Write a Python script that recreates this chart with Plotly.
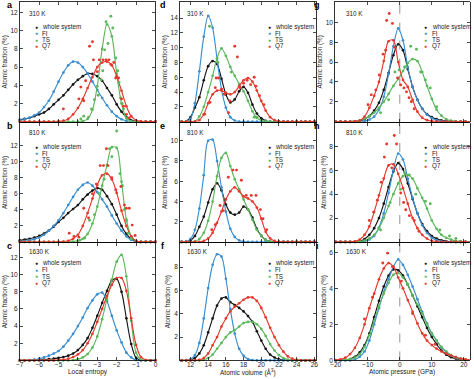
import plotly.graph_objects as go

# ---------------- data ----------------
SERIES_NAMES = ["whole system", "FI", "TS", "Q7"]
SERIES_COLORS = ["#161616", "#3b8ed0", "#5cb85c", "#e5392d"]
TEMPERATURES = ["310 K", "810 K", "1630 K"]
PANEL_LETTERS = ["a", "b", "c", "d", "e", "f", "g", "h", "i"]

ENTROPY_X = [-7, -6.75, -6.5, -6.25, -6, -5.75, -5.5, -5.25, -5, -4.75, -4.5, -4.25, -4, -3.75,
             -3.5, -3.25, -3, -2.75, -2.5, -2.25, -2, -1.75, -1.5, -1.25, -1, -0.75, -0.5, -0.25, 0]
VOLUME_X = [11, 11.5, 12, 12.5, 13, 13.5, 14, 14.5, 15, 15.5, 16, 16.5, 17, 17.5, 18, 18.5,
            19, 19.5, 20, 20.5, 21, 21.5, 22, 22.5, 23, 23.5, 24, 24.5, 25, 25.5, 26]
PRESSURE_X = [-20, -18.5, -17, -15.5, -14, -12.5, -11, -9.5, -8, -6.5, -5, -3.5, -2, -0.5, 1,
              2.5, 4, 5.5, 7, 8.5, 10, 11.5, 13, 14.5, 16, 17.5, 19, 20.5, 22]

# panel a (310 K, local entropy)
A_WHOLE = [0.2, 0.3, 0.4, 0.6, 0.8, 1.0, 1.4, 1.9, 2.4, 2.9, 3.5, 4.1, 4.6, 5.0, 5.3, 5.25, 5.0,
           4.5, 3.7, 2.9, 1.9, 1.1, 0.5, 0.15, 0.03, 0, 0, 0, 0]
A_FI = [0.15, 0.25, 0.45, 0.7, 1.0, 1.6, 2.3, 3.3, 4.4, 5.4, 6.2, 6.6, 6.5, 6.0, 5.3, 4.4, 3.5,
        2.6, 1.8, 1.1, 0.6, 0.25, 0.08, 0, 0, 0, 0, 0, 0]
A_TS = [0, 0, 0, 0, 0, 0, 0, 0, 0, 0, 0, 0, 0, 0.05, 0.3, 1.3, 3.9, 8.0, 10.7, 9.4, 5.3, 2.0,
        0.4, 0.05, 0, 0, 0, 0, 0]
A_Q7 = [0, 0, 0, 0, 0, 0, 0, 0, 0.02, 0.1, 0.3, 0.8, 1.5, 2.5, 3.7, 4.9, 6.0, 6.5, 6.6, 6.2, 5.0,
        3.4, 1.7, 0.6, 0.15, 0.02, 0, 0, 0]
A_TS_PX = [-3.85, -3.7, -3.45, -3.3, -3.15, -2.95, -2.8, -2.72, -2.62, -2.55, -2.45, -2.3, -2.2,
           -2.05, -1.95, -1.88, -1.8, -1.72, -1.65, -1.55, -1.45]
A_TS_PY = [0.3, 0.6, 0.5, 1.4, 2.4, 2.9, 4.6, 5.6, 7.9, 11.0, 8.6, 11.6, 10.3, 7.0, 5.6, 4.3,
           2.6, 2.0, 1.4, 0.7, 0.3]
A_Q7_PX = [-4.75, -3.95, -3.85, -3.7, -3.6, -3.4, -3.25, -3.2, -3.0, -2.9, -2.7, -2.55, -2.4,
           -2.3, -2.15, -2.05, -1.9, -1.75, -1.65, -1.5, -1.35]
A_Q7_PY = [1.4, 2.5, 3.8, 2.3, 4.5, 8.3, 8.8, 6.8, 5.5, 6.8, 6.8, 6.8, 6.8, 6.3, 6.5, 4.8, 4.8,
           2.5, 1.7, 0.8, 0.4]

# panel b (810 K, local entropy)
B_WHOLE = [0.2, 0.3, 0.4, 0.55, 0.75, 1.05, 1.4, 1.9, 2.5, 3.0, 3.6, 4.1, 4.6, 5.3, 5.9, 6.4,
           6.7, 6.5, 5.7, 4.7, 3.4, 2.0, 1.0, 0.35, 0.08, 0, 0, 0, 0]
B_FI = [0.05, 0.1, 0.2, 0.35, 0.55, 0.9, 1.4, 2.0, 2.7, 3.6, 4.6, 5.6, 6.5, 7.1, 7.4, 7.0, 6.2,
        5.3, 4.4, 3.3, 2.3, 1.4, 0.7, 0.25, 0.05, 0, 0, 0, 0]
B_TS = [0, 0, 0, 0, 0, 0, 0, 0, 0, 0, 0, 0.05, 0.15, 0.4, 1.0, 2.3, 4.4, 7.0, 9.6, 11.8, 11.7,
        7.5, 2.8, 0.7, 0.1, 0, 0, 0, 0]
B_Q7 = [0, 0, 0, 0, 0, 0, 0, 0, 0.02, 0.05, 0.15, 0.4, 0.9, 2.0, 3.6, 5.4, 7.1, 8.3, 8.5, 7.8,
        6.1, 3.9, 2.0, 0.7, 0.15, 0, 0, 0, 0]
B_TS_PX = [-3.9, -3.65, -3.4, -3.15, -2.9, -2.65, -2.37, -2.25, -2.0, -1.83, -1.7, -1.6, -1.5,
           -1.4, -1.25]
B_TS_PY = [0.2, 0.5, 2.7, 3.4, 6.0, 7.8, 11.6, 10.6, 13.8, 8.5, 7.0, 4.0, 2.6, 1.1, 0.4]
B_Q7_PX = [-4.45, -4.2, -3.95, -3.7, -3.45, -3.25, -3.05, -2.85, -2.68, -2.53, -2.45, -2.25,
           -2.05, -1.78, -1.6, -1.5, -1.35, -1.2, -1.05]
B_Q7_PY = [1.1, 0.7, 0.6, 4.2, 3.0, 6.0, 7.2, 9.5, 9.5, 11.6, 9.5, 8.0, 6.5, 6.9, 4.6, 4.2, 4.2,
           2.1, 0.8]

# panel c (1630 K, local entropy)
C_WHOLE = [0, 0, 0.02, 0.04, 0.07, 0.1, 0.15, 0.2, 0.3, 0.4, 0.55, 0.8, 1.2, 1.8, 2.6, 3.8, 5.2,
           6.7, 8.1, 9.3, 9.5, 8.0, 4.9, 1.9, 0.3, 0.02, 0, 0, 0]
C_FI = [0, 0.02, 0.05, 0.1, 0.2, 0.35, 0.55, 0.8, 1.1, 1.6, 2.3, 3.1, 4.0, 5.0, 6.1, 7.0, 7.7,
        7.9, 6.9, 5.2, 3.5, 2.1, 0.9, 0.35, 0.05, 0, 0, 0, 0]
C_TS = [0, 0, 0, 0, 0, 0, 0, 0, 0, 0, 0, 0.05, 0.15, 0.35, 0.75, 1.5, 2.8, 4.8, 7.2, 9.4, 11.5,
        12.3, 9.8, 4.6, 0.9, 0.1, 0, 0, 0]
C_Q7 = [0, 0, 0, 0, 0, 0, 0, 0, 0.05, 0.1, 0.2, 0.4, 0.7, 1.2, 2.0, 3.1, 4.5, 6.0, 7.5, 8.8, 9.6,
        9.6, 8.1, 4.9, 1.8, 0.4, 0.05, 0, 0]

# panel d (310 K, atomic volume)
D_WHOLE = [0, 0.05, 0.6, 1.9, 3.3, 5.6, 7.5, 8.2, 7.8, 5.8, 3.7, 2.6, 3.0, 4.1, 4.7, 3.9, 2.3,
           1.1, 0.45, 0.12, 0.02, 0, 0, 0, 0, 0, 0, 0, 0, 0, 0]
D_FI = [0, 0.02, 0.4, 2.5, 6.8, 11.5, 14.3, 12.7, 8.5, 4.4, 1.9, 0.6, 0.15, 0.02, 0, 0, 0, 0, 0,
        0, 0, 0, 0, 0, 0, 0, 0, 0, 0, 0, 0]
D_TS = [0, 0, 0, 0.05, 0.7, 2.0, 4.0, 6.2, 8.6, 9.9, 8.9, 7.4, 6.2, 5.1, 4.1, 2.8, 1.4, 0.5,
        0.15, 0.03, 0, 0, 0, 0, 0, 0, 0, 0, 0, 0, 0]
D_Q7 = [0, 0, 0, 0, 0.2, 1.0, 2.5, 3.7, 4.2, 4.2, 3.9, 3.7, 4.0, 4.8, 5.6, 5.9, 5.4, 4.2, 2.8,
        1.5, 0.6, 0.2, 0.05, 0, 0, 0, 0, 0, 0, 0, 0]
D_TS_PX = [14.15, 15.1, 16.6, 19.2, 19.5]
D_TS_PY = [12.9, 8.0, 6.7, 0.6, 0.6]
D_Q7_PX = [13.6, 14.2, 14.8, 14.9, 15.15, 15.5, 15.8, 16.3, 16.45, 17.0, 17.3, 17.6, 18.0, 18.4,
           18.8, 19.2, 19.4, 19.8, 20.3]
D_Q7_PY = [1.0, 2.6, 4.6, 5.9, 5.9, 4.4, 3.7, 1.2, 2.8, 10.2, 8.75, 4.6, 5.2, 5.6, 5.0, 6.0,
           4.8, 3.5, 2.3]

# panel e (810 K, atomic volume)
E_WHOLE = [0, 0.02, 0.15, 0.6, 1.5, 2.5, 3.9, 5.2, 5.8, 5.1, 3.7, 2.9, 2.7, 2.9, 3.5, 3.2, 2.4,
           1.3, 0.6, 0.2, 0.05, 0, 0, 0, 0, 0, 0, 0, 0, 0, 0]
E_FI = [0, 0.03, 0.3, 1.2, 3.3, 6.6, 10.0, 10.1, 8.0, 5.4, 3.0, 1.3, 0.5, 0.15, 0.03, 0, 0, 0, 0,
        0, 0, 0, 0, 0, 0, 0, 0, 0, 0, 0, 0]
E_TS = [0, 0, 0, 0.05, 0.3, 0.9, 2.1, 4.0, 6.5, 8.3, 8.8, 7.5, 6.2, 5.2, 4.2, 3.2, 2.2, 1.2, 0.6,
        0.2, 0.05, 0, 0, 0, 0, 0, 0, 0, 0, 0, 0]
E_Q7 = [0, 0, 0, 0, 0, 0.1, 0.35, 0.9, 1.9, 3.0, 4.2, 5.0, 5.4, 5.0, 4.5, 4.3, 4.0, 3.4, 2.3,
        1.0, 0.35, 0.1, 0.02, 0, 0, 0, 0, 0, 0, 0, 0]
E_Q7_PX = [14.4, 14.8, 15.34, 15.7, 16.27, 16.8, 17.2, 17.75, 18.3, 18.87, 19.4, 19.9, 20.2,
           20.6]
E_Q7_PY = [1.2, 1.7, 3.6, 3.1, 6.4, 7.1, 7.1, 6.1, 4.6, 4.6, 4.6, 3.2, 2.3, 1.2]

# panel f (1630 K, atomic volume)
F_WHOLE = [0, 0, 0.05, 0.2, 0.6, 1.3, 2.4, 3.6, 4.7, 5.3, 5.4, 5.0, 4.75, 4.5, 4.2, 3.8, 3.3,
           2.5, 1.7, 1.0, 0.5, 0.25, 0.1, 0.04, 0.01, 0, 0, 0, 0, 0, 0]
F_FI = [0, 0.02, 0.1, 0.45, 1.5, 3.6, 6.2, 8.2, 9.1, 8.9, 7.0, 4.4, 2.3, 1.0, 0.4, 0.12, 0.03,
        0, 0, 0, 0, 0, 0, 0, 0, 0, 0, 0, 0, 0, 0]
F_TS = [0, 0, 0, 0, 0, 0.05, 0.2, 0.5, 1.0, 1.5, 2.0, 2.4, 2.6, 2.9, 3.2, 3.3, 3.3, 3.1, 2.7,
        2.1, 1.4, 0.85, 0.45, 0.2, 0.07, 0.02, 0, 0, 0, 0, 0]
F_Q7 = [0, 0, 0, 0, 0.05, 0.2, 0.6, 1.3, 2.0, 2.9, 3.6, 4.2, 4.6, 4.9, 5.2, 5.4, 5.4, 5.1, 4.5,
        3.7, 2.8, 2.0, 1.3, 0.75, 0.35, 0.15, 0.05, 0, 0, 0, 0]

# panel g (310 K, atomic pressure)
G_WHOLE = [0, 0, 0, 0, 0.02, 0.08, 0.25, 0.55, 1.1, 1.9, 3.2, 4.9, 6.7, 7.8, 7.2, 5.3, 3.5, 2.2,
           1.3, 0.75, 0.45, 0.25, 0.12, 0.05, 0.02, 0, 0, 0, 0]
G_FI = [0, 0, 0, 0, 0, 0, 0.05, 0.2, 0.5, 1.2, 2.5, 4.8, 7.6, 9.4, 8.2, 5.5, 3.5, 2.2, 1.3, 0.7,
        0.35, 0.15, 0.05, 0, 0, 0, 0, 0, 0]
G_TS = [0, 0, 0, 0, 0.02, 0.1, 0.3, 0.55, 0.9, 1.4, 2.0, 2.8, 3.6, 4.3, 5.1, 5.9, 6.3, 6.1, 5.0,
        3.6, 2.3, 1.2, 0.6, 0.25, 0.1, 0.03, 0, 0, 0]
G_Q7 = [0, 0, 0, 0, 0.02, 0.1, 0.5, 1.4, 2.6, 4.0, 6.1, 8.1, 8.2, 6.0, 4.2, 3.5, 2.2, 1.0, 0.4,
        0.15, 0.05, 0, 0, 0, 0, 0, 0, 0, 0]
G_TS_PX = [-6, -3.5, -1.5, -0.2, 1.5, 3.4, 5.2, 6.5, 8.0, 9.5, 11.5]
G_TS_PY = [0.9, 2.2, 5.0, 5.2, 5.5, 7.6, 7.3, 5.0, 4.2, 3.4, 1.5]
G_Q7_PX = [-9.9, -8.9, -7.5, -6.4, -5.2, -4.4, -4.1, -3.3, -2.3, -1.6, -0.7, 0.3, 1.3, 2.1, 2.9,
           3.6, 4.5]
G_Q7_PY = [1.7, 2.7, 3.2, 4.7, 6.8, 7.2, 10.2, 10.9, 9.9, 7.5, 4.4, 3.7, 3.4, 3.0, 2.4, 2.0, 1.3]

# panel h (810 K, atomic pressure)
H_WHOLE = [0, 0, 0, 0, 0, 0.05, 0.25, 0.6, 1.15, 2.0, 3.2, 4.6, 5.9, 6.6, 6.1, 4.9, 3.6, 2.4,
           1.5, 0.9, 0.5, 0.28, 0.13, 0.06, 0.02, 0, 0, 0, 0]
H_FI = [0, 0, 0, 0, 0, 0, 0.05, 0.2, 0.5, 1.2, 2.4, 4.1, 6.0, 7.4, 6.9, 5.3, 3.7, 2.4, 1.4, 0.75,
        0.35, 0.15, 0.05, 0, 0, 0, 0, 0, 0]
H_TS = [0, 0, 0, 0, 0, 0.05, 0.12, 0.3, 0.6, 1.15, 2.0, 3.0, 4.0, 4.9, 5.5, 5.6, 5.3, 4.5, 3.7,
        2.8, 1.8, 1.1, 0.6, 0.35, 0.2, 0.1, 0.05, 0, 0]
H_Q7 = [0, 0, 0, 0, 0.05, 0.2, 0.6, 1.3, 2.5, 3.9, 5.3, 6.4, 6.5, 5.7, 4.5, 3.2, 2.0, 1.15, 0.6,
        0.28, 0.1, 0.03, 0, 0, 0, 0, 0, 0, 0]
H_TS_PX = [-6.0, -3.0, 0.2, 1.5, 3.0, 5.0, 8.0, 9.5, 12.5, 15.5, 17.5]
H_TS_PY = [1.0, 3.3, 4.4, 5.8, 5.6, 4.0, 3.4, 3.2, 1.0, 0.5, 0.3]
H_Q7_PX = [-9.5, -8.2, -7.0, -5.8, -4.8, -4.1, -2.5, -1.7, -1.0, 0.3, 1.2, 1.85, 3.0, 4.5, 6.0]
H_Q7_PY = [1.8, 2.5, 3.5, 5.0, 7.1, 8.2, 6.2, 8.9, 8.2, 4.1, 3.3, 2.7, 2.2, 1.8, 0.9]

# panel i (1630 K, atomic pressure)
I_WHOLE = [0, 0.01, 0.03, 0.08, 0.2, 0.45, 0.85, 1.5, 2.4, 3.3, 4.1, 4.7, 5.05, 5.0, 4.7, 4.2,
           3.6, 3.0, 2.4, 1.8, 1.3, 0.9, 0.55, 0.32, 0.18, 0.1, 0.05, 0.02, 0.01]
I_FI = [0, 0, 0, 0, 0.05, 0.2, 0.5, 1.1, 2.0, 2.9, 3.8, 4.5, 5.2, 5.6, 5.3, 4.75, 4.1, 3.4, 2.7,
        2.05, 1.5, 1.1, 0.72, 0.45, 0.27, 0.15, 0.07, 0.03, 0.01]
I_TS = [0, 0.01, 0.03, 0.07, 0.15, 0.35, 0.75, 1.4, 2.2, 3.0, 3.7, 4.3, 4.75, 4.85, 4.6, 4.2,
        3.6, 3.1, 2.6, 2.0, 1.5, 1.1, 0.75, 0.5, 0.3, 0.18, 0.1, 0.05, 0.02]
I_Q7 = [0.02, 0.06, 0.15, 0.35, 0.7, 1.25, 2.0, 2.9, 3.7, 4.5, 5.1, 5.4, 5.2, 4.6, 4.0, 3.35,
        2.7, 2.05, 1.5, 1.1, 0.85, 0.65, 0.5, 0.38, 0.27, 0.18, 0.1, 0.06, 0.03]
I_Q7_PX = [-11.0, -8.5, -5.3, -3.8, -2.3, 0.5, 4.0, 8.0, 11.0]
I_Q7_PY = [2.3, 3.5, 5.4, 5.95, 5.2, 4.4, 2.6, 1.4, 0.9]

X_TICKS = [[-7, -6, -5, -4, -3, -2, -1, 0], [12, 14, 16, 18, 20, 22, 24, 26], [-20, -10, 0, 10, 20]]
X_TITLES = ["Local entropy", "Atomic volume (Å<sup>3</sup>)", "Atomic pressure (GPa)"]
Y_TITLE = "Atomic fraction (%)"
Y_TICKS = [
    [[2, 4, 6, 8, 10, 12], [2, 4, 6, 8, 10, 12], [2, 4, 6, 8, 10, 12]],
    [[2, 4, 6, 8, 10, 12, 14], [2, 4, 6, 8, 10], [2, 4, 6, 8]],
    [[2, 4, 6, 8, 10], [2, 4, 6, 8], [0, 2, 4, 6]],
]

# ---------------- structure ----------------
GRIDS = [ENTROPY_X, VOLUME_X, PRESSURE_X]
CURVES = [
    [(A_WHOLE, A_FI, A_TS, A_Q7), (B_WHOLE, B_FI, B_TS, B_Q7), (C_WHOLE, C_FI, C_TS, C_Q7)],
    [(D_WHOLE, D_FI, D_TS, D_Q7), (E_WHOLE, E_FI, E_TS, E_Q7), (F_WHOLE, F_FI, F_TS, F_Q7)],
    [(G_WHOLE, G_FI, G_TS, G_Q7), (H_WHOLE, H_FI, H_TS, H_Q7), (I_WHOLE, I_FI, I_TS, I_Q7)],
]
EXTRA_POINTS = {
    (0, 0): [(2, A_TS_PX, A_TS_PY), (3, A_Q7_PX, A_Q7_PY)],
    (0, 1): [(2, B_TS_PX, B_TS_PY), (3, B_Q7_PX, B_Q7_PY)],
    (1, 0): [(2, D_TS_PX, D_TS_PY), (3, D_Q7_PX, D_Q7_PY)],
    (1, 1): [(3, E_Q7_PX, E_Q7_PY)],
    (2, 0): [(2, G_TS_PX, G_TS_PY), (3, G_Q7_PX, G_Q7_PY)],
    (2, 1): [(2, H_TS_PX, H_TS_PY), (3, H_Q7_PX, H_Q7_PY)],
    (2, 2): [(3, I_Q7_PX, I_Q7_PY)],
}

# ---------------- layout geometry (pixels) ----------------
W, H = 474, 379
COL_PX = [(15.0, 152.7), (177.5, 315.8), (335.0, 471.6)]
ROW_PX = [(2.0, 122.6), (124.0, 243.9), (245.0, 363.3)]
X_RANGES = [[-7, 0], [10.8, 26.2], [-20.2, 21.8]]
Y_TOPS = [[13.17, 14.8, 13.67], [16.19, 11.75, 10.06], [12.06, 9.95, 6.51]]
LETTER_X = [5, 160, 317]
TEMP_X = [22, 183, 344]
TEMP_Y = [14, 134, 254]
LEG_MARK_X = [32, 268.5, 427]
LEG_ROWS_Y = [[27, 33.5, 40, 46.5], [147.7, 154.3, 161, 167.7], [265, 271.7, 278.4, 285.1]]
X_TITLE_Y = 375
FONT = "Liberation Sans, Arial, Helvetica, sans-serif"


def fx(px):
    return px / W


def fy(py):
    return 1 - py / H


fig = go.Figure()
layout = dict(width=W, height=H, margin=dict(l=0, r=0, t=0, b=0),
              paper_bgcolor="white", plot_bgcolor="white", showlegend=False,
              font=dict(family=FONT, size=7, color="#222"))
annotations = []
shapes = []

for c in range(3):
    for r in range(3):
        k = c * 3 + r + 1
        sfx = "" if k == 1 else str(k)
        xa, ya = "x" + sfx, "y" + sfx
        xs = GRIDS[c]
        for s, ys in enumerate(CURVES[c][r]):
            col = SERIES_COLORS[s]
            fig.add_trace(go.Scatter(x=xs, y=ys, mode="lines", xaxis=xa, yaxis=ya,
                                     line=dict(color=col, width=1.15, shape="spline", smoothing=0.9),
                                     hoverinfo="skip", name=SERIES_NAMES[s]))
            fig.add_trace(go.Scatter(x=xs, y=ys, mode="markers", xaxis=xa, yaxis=ya,
                                     marker=dict(color=col, size=2.7), cliponaxis=False,
                                     name=SERIES_NAMES[s]))
        for s, px_, py_ in EXTRA_POINTS.get((c, r), []):
            fig.add_trace(go.Scatter(x=px_, y=py_, mode="markers", xaxis=xa, yaxis=ya,
                                     marker=dict(color=SERIES_COLORS[s], size=2.9),
                                     name=SERIES_NAMES[s]))

        x0, x1 = COL_PX[c]
        y0, y1 = ROW_PX[r]
        axis_common = dict(showline=True, linecolor="#000", linewidth=0.8, mirror="ticks",
                           ticks="inside", ticklen=3, tickwidth=0.7, tickcolor="#000",
                           showgrid=False, zeroline=False, tickfont=dict(size=6.5, family=FONT))
        xax = dict(axis_common, domain=[fx(x0), fx(x1)], range=X_RANGES[c], anchor=ya,
                   tickvals=X_TICKS[c], showticklabels=(r == 2), ticklabelstandoff=-2)
        yax = dict(axis_common, domain=[fy(y1), fy(y0)], range=[0, Y_TOPS[c][r]], anchor=xa,
                   tickvals=Y_TICKS[c][r],
                   title=dict(text=Y_TITLE, font=dict(size=6.3, family=FONT), standoff=2))
        layout["xaxis" + sfx] = xax
        layout["yaxis" + sfx] = yax

        if c == 2:
            shapes.append(dict(type="line", xref=xa, yref=ya + " domain", x0=0, x1=0, y0=0, y1=1,
                               line=dict(color="#777", width=0.8, dash="dash"), layer="below"))

        annotations.append(dict(text="<b>" + PANEL_LETTERS[k - 1] + "</b>", xref="paper",
                                yref="paper", x=fx(LETTER_X[c]), y=fy(y0 + 3), xanchor="center",
                                yanchor="middle", showarrow=False,
                                font=dict(size=9, family=FONT, color="#000")))
        annotations.append(dict(text=TEMPERATURES[r], xref="paper", yref="paper",
                                x=fx(TEMP_X[c]), y=fy(TEMP_Y[r]), xanchor="left",
                                yanchor="middle", showarrow=False,
                                font=dict(size=6.3, family=FONT, color="#222")))
        for s in range(4):
            yy = LEG_ROWS_Y[r][s]
            annotations.append(dict(text="●", xref="paper", yref="paper",
                                    x=fx(LEG_MARK_X[c]), y=fy(yy), xanchor="center",
                                    yanchor="middle", showarrow=False,
                                    font=dict(size=5, family=FONT, color=SERIES_COLORS[s])))
            annotations.append(dict(text=SERIES_NAMES[s], xref="paper", yref="paper",
                                    x=fx(LEG_MARK_X[c] + 4), y=fy(yy), xanchor="left",
                                    yanchor="middle", showarrow=False,
                                    font=dict(size=6.3, family=FONT, color="#222")))
    # x-axis title under the bottom panel of each column
    annotations.append(dict(text=X_TITLES[c], xref="paper", yref="paper",
                            x=fx((COL_PX[c][0] + COL_PX[c][1]) / 2), y=fy(X_TITLE_Y),
                            xanchor="center", yanchor="middle", showarrow=False,
                            font=dict(size=6.5, family=FONT, color="#222")))

layout["annotations"] = annotations
layout["shapes"] = shapes
fig.update_layout(**layout)
fig.write_html("out.html", config={"displayModeBar": False, "staticPlot": True},
               post_script="document.body.style.margin='0';document.body.style.overflow='hidden';")
